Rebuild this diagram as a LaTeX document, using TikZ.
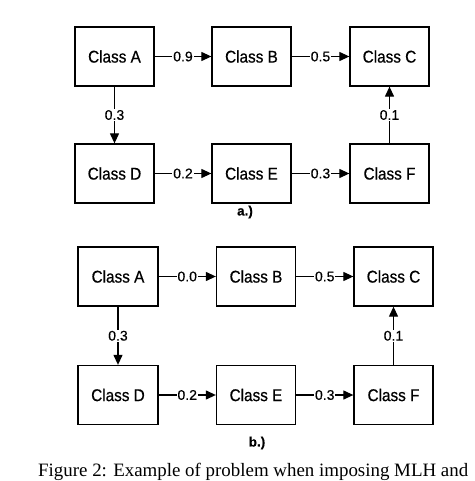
\documentclass[tikz,border=0pt]{standalone}
\usepackage{fontspec}
\setmainfont{Liberation Serif}
\newfontfamily\boxfont[FakeStretch=0.9,FakeBold=0.6]{Liberation Sans}
\newfontfamily\labfont[FakeBold=0.4]{Liberation Sans}
\usetikzlibrary{arrows.meta}
\begin{document}
\begin{tikzpicture}[x=1pt,y=-1pt,
  cls/.style={draw,line width=1.3pt,minimum width=79pt,minimum height=59pt,inner sep=0pt,
    font=\boxfont\fontsize{17}{19}\selectfont},
  conn/.style={line width=1.2pt,-{Triangle[length=10pt,width=9pt]}},
  wt/.style={fill=white,inner sep=1pt,font=\labfont\fontsize{14}{15}\selectfont},
  sub/.style={font=\labfont\bfseries\fontsize{13.5}{15}\selectfont}]
\useasboundingbox (0,0) rectangle (474,481);
% part a
\node[cls] (a1) at (114.5,56.5) {Class A};
\node[cls] (b1) at (251.5,56.5) {Class B};
\node[cls] (c1) at (389.5,56.5) {Class C};
\node[cls] (d1) at (114.5,173.5) {Class D};
\node[cls] (e1) at (251.5,173.5) {Class E};
\node[cls] (f1) at (389.5,173.5) {Class F};
\draw[conn] (a1) -- node[wt]{0.9} (b1);
\draw[conn] (b1) -- node[wt]{0.5} (c1);
\draw[conn] (a1) -- node[wt]{0.3} (d1);
\draw[conn] (d1) -- node[wt]{0.2} (e1);
\draw[conn] (e1) -- node[wt]{0.3} (f1);
\draw[conn] (f1) -- node[wt]{0.1} (c1);
\node[sub] (la) at (245,212) {a.)};
% part b
\node[cls,minimum width=80pt] (a2) at (118,276.5) {Class A};
\node[cls] (b2) at (256,276.5) {Class B};
\node[cls] (c2) at (393.5,276.5) {Class C};
\node[cls,minimum width=80pt] (d2) at (118,395) {Class D};
\node[cls] (e2) at (256,395) {Class E};
\node[cls] (f2) at (393.5,395) {Class F};
\draw[conn] (a2) -- node[wt]{0.0} (b2);
\draw[conn] (b2) -- node[wt]{0.5} (c2);
\draw[conn] (a2) -- node[wt]{0.3} (d2);
\draw[conn] (d2) -- node[wt]{0.2} (e2);
\draw[conn] (e2) -- node[wt]{0.3} (f2);
\draw[conn] (f2) -- node[wt]{0.1} (c2);
\node[sub] (lb) at (257,443) {b.)};
% caption
\node[anchor=base west,inner sep=0pt] (cap) at (38,476)
  {\resizebox{430pt}{!}{\fontsize{18}{20}\selectfont Figure 2: Example of problem when imposing MLH and}};
\end{tikzpicture}
\end{document}
